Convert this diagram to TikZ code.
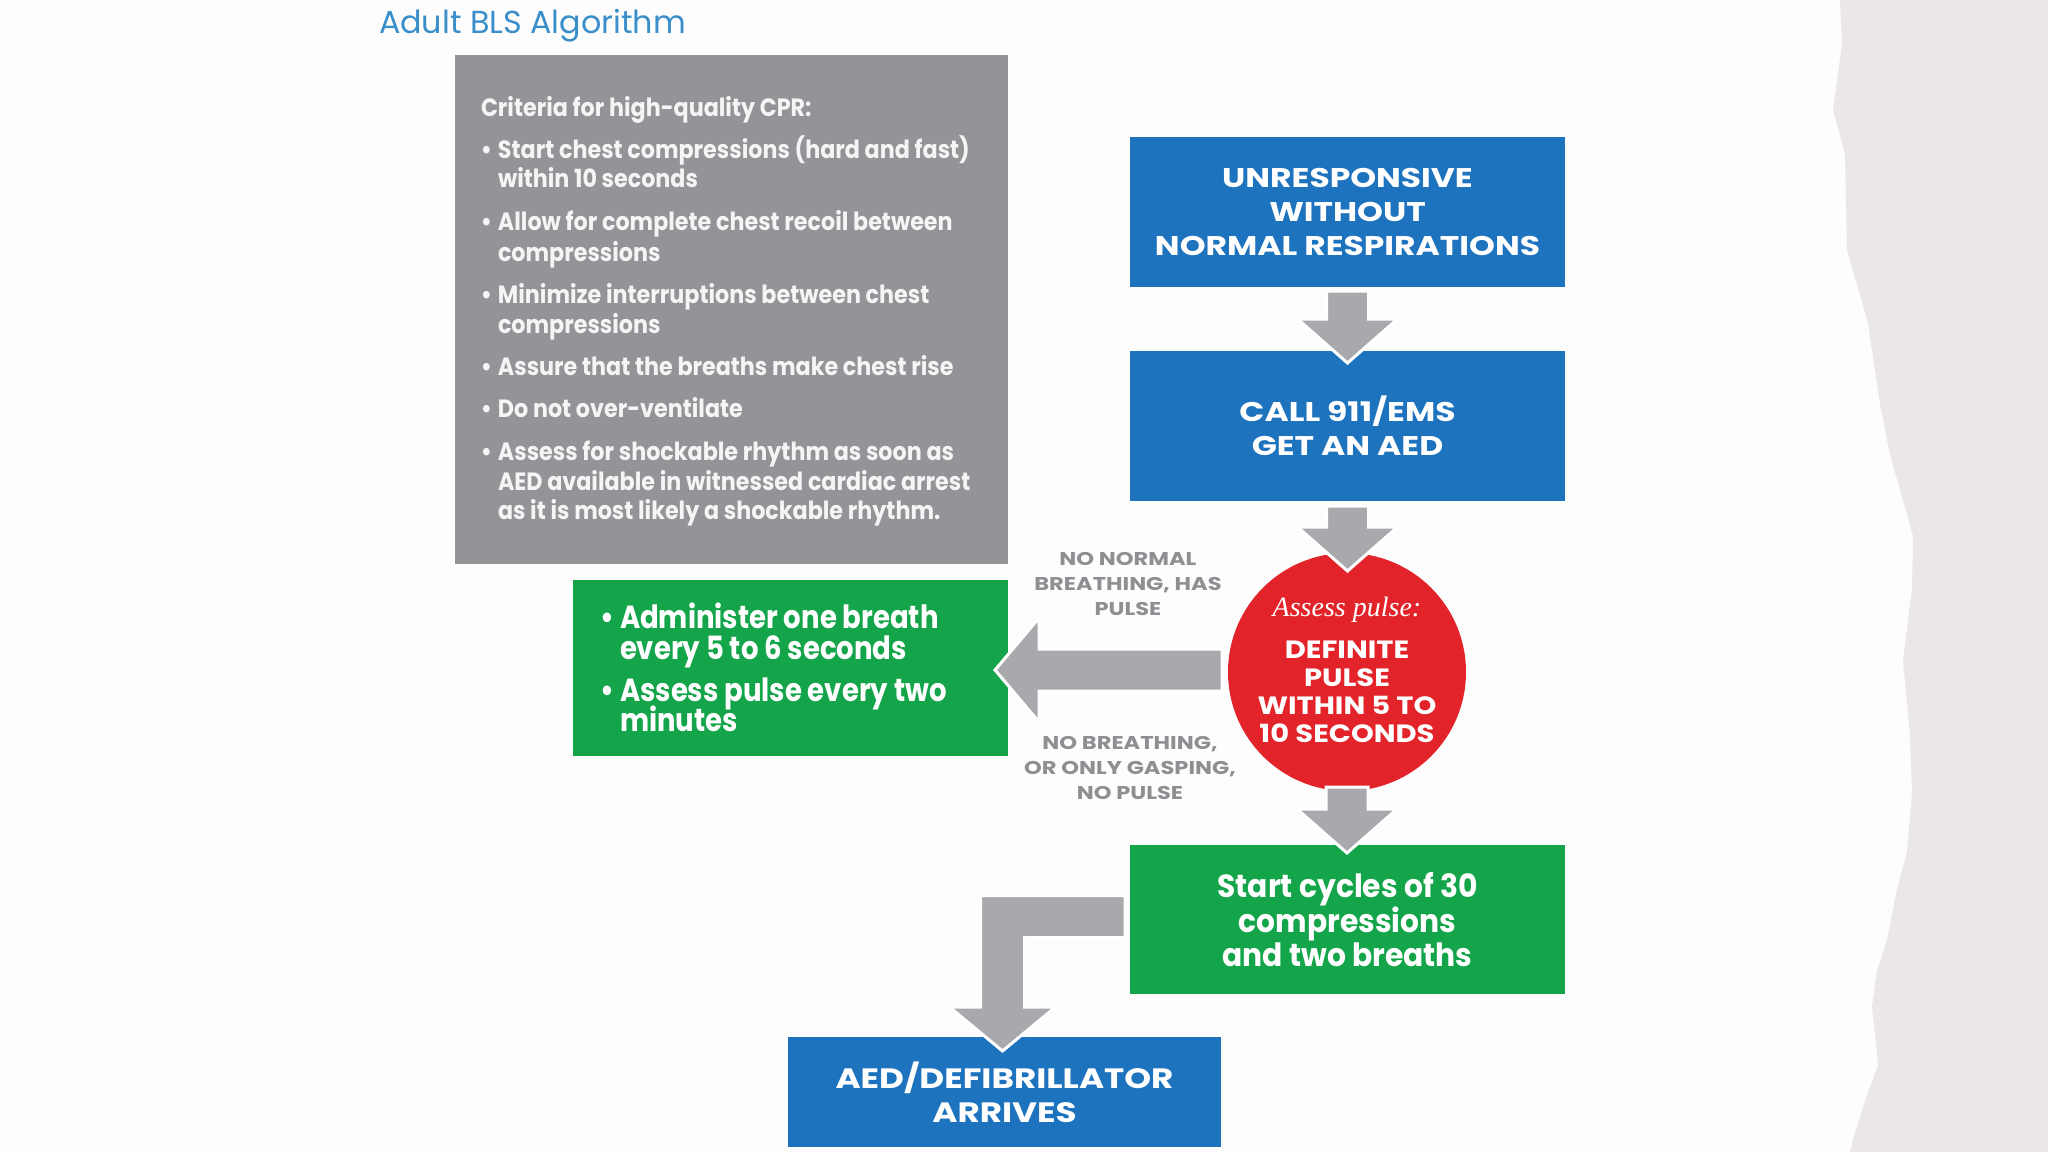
\documentclass[tikz,border=0pt]{standalone}
\usepackage{fontspec}
\setmainfont{Poppins}
\newfontfamily\popR{Poppins}
\newfontfamily\popC[FakeStretch=0.89]{Poppins}
\newfontfamily\popG[FakeStretch=0.86]{Poppins}
\newfontfamily\popS[FakeStretch=0.93]{Poppins}
\newfontfamily\popW[FakeStretch=1.22]{Poppins}
\newfontfamily\popP[FakeStretch=1.16]{Poppins}
\newfontfamily\serifit{Liberation Serif}
\usetikzlibrary{calc}
\definecolor{bgwhite}{HTML}{FDFDFD}
\definecolor{torn}{HTML}{EBE7E6}
\definecolor{titleblue}{HTML}{3A8FCB}
\definecolor{boxgray}{HTML}{929497}
\definecolor{boxblue}{HTML}{1E73BE}
\definecolor{boxgreen}{HTML}{14A54A}
\definecolor{pulsered}{HTML}{E3232A}
\definecolor{arrowgray}{HTML}{A7A9AC}
\definecolor{labelgray}{HTML}{8E8F92}
\tikzset{
  blk/.style={inner sep=0pt, outer sep=0pt},
  bigarrow/.style={fill=arrowgray, draw=white, line width=3pt, line join=miter},
  bluebox/.style={blk, fill=boxblue, minimum width=435, text=white, align=center,
    font=\popW\bfseries\fontsize{27}{34}\selectfont},
  greenbox/.style={blk, fill=boxgreen, minimum width=435, text=white, align=center},
  critline/.style={blk, anchor=base west, text=white!96!black,
    font=\popC\bfseries\fontsize{25}{30}\selectfont},
  greenline/.style={blk, anchor=base west, text=white,
    font=\popG\bfseries\fontsize{32}{31}\selectfont},
  lbl/.style={blk, align=center, text=labelgray,
    font=\popW\bfseries\fontsize{18.5}{25}\selectfont},
}
\newcommand\bul{\makebox[0pt][r]{\textbullet\hspace{6pt}}}
\newcommand\vArrow[2]{%
  \path[bigarrow] let \p1=(#1), \p2=(#2) in
    (\x1-21pt,\y1) -- (\x1-21pt,\y2+44pt) -- (\x1-50pt,\y2+44pt) -- (\x1,\y2)
    -- (\x1+50pt,\y2+44pt) -- (\x1+21pt,\y2+44pt) -- (\x1+21pt,\y1) -- cycle;}
\begin{document}
\begin{tikzpicture}[x=1pt,y=-1pt]
\useasboundingbox (0,0) rectangle (2048,1152);
\fill[bgwhite] (0,0) rectangle (2048,1152);
\fill[torn] (1840,0) -- (1842,44) -- (1833,110) -- (1845,154) -- (1847,250)
  -- (1868,323) -- (1880,404) -- (1890,455) -- (1907,514) -- (1913,536)
  -- (1912,588) -- (1903,661) -- (1910,735) -- (1912,793) -- (1907,852)
  -- (1897,889) -- (1887,940) -- (1877,970) -- (1872,1006) -- (1878,1065)
  -- (1867,1095) -- (1853,1139) -- (1850,1152) -- (2048,1152) -- (2048,0) -- cycle;

\node[blk, anchor=base west, text=titleblue, font=\popR\fontsize{31.8}{36}\selectfont]
  (title) at (379,33) {Adult BLS Algorithm};

% criteria box
\node[blk, fill=boxgray, minimum width=553, minimum height=509] (crit) at (731.5,309.5) {};
\node[critline] (c0) at (481,116) {Criteria for high-quality CPR:};
\node[critline] (c1a) at (498,158) {\bul Start chest compressions (hard and fast)};
\node[critline] (c1b) at (498,187) {within 10 seconds};
\node[critline] (c2a) at (498,230) {\bul Allow for complete chest recoil between};
\node[critline] (c2b) at (498,261) {compressions};
\node[critline] (c3a) at (498,303) {\bul Minimize interruptions between chest};
\node[critline] (c3b) at (498,333) {compressions};
\node[critline] (c4) at (498,375) {\bul Assure that the breaths make chest rise};
\node[critline] (c5) at (498,417) {\bul Do not over-ventilate};
\node[critline] (c6a) at (498,460) {\bul Assess for shockable rhythm as soon as};
\node[critline] (c6b) at (498,490) {AED available in witnessed cardiac arrest};
\node[critline] (c6c) at (498,519) {as it is most likely a shockable rhythm.};

% flow boxes
\node[bluebox, minimum height=150] (b1) at (1347.5,212) {UNRESPONSIVE\\WITHOUT\\NORMAL RESPIRATIONS};
\node[bluebox, minimum height=150] (b2) at (1347.5,426) {CALL 911/EMS\\GET AN AED};
\node[blk, circle, fill=pulsered, minimum size=238] (pulse) at (1347,672) {};
\node[blk, text=white, font=\serifit\itshape\fontsize{28}{34}\selectfont] (pq) at (1347,610) {Assess pulse:};
\node[blk, text=white, align=center, font=\popP\bfseries\fontsize{25}{28}\selectfont] (pt) at (1347,692)
  {DEFINITE\\PULSE\\WITHIN 5 TO\\10 SECONDS};
\node[greenbox, minimum height=176] (g1) at (790.5,668) {};
\node[greenline] (g1a) at (620,628) {\bul Administer one breath};
\node[greenline] (g1b) at (620,659) {every 5 to 6 seconds};
\node[greenline] (g1c) at (620,701) {\bul Assess pulse every two};
\node[greenline] (g1d) at (620,731) {minutes};
\node[greenbox, minimum height=149, font=\popS\bfseries\fontsize{32}{34}\selectfont] (g2) at (1347.5,919.5)
  {Start cycles of 30\\compressions\\and two breaths};
\node[bluebox, minimum width=433, minimum height=110, font=\popW\bfseries\fontsize{28}{34}\selectfont] (b3) at (1004.5,1092)
  {AED/DEFIBRILLATOR\\ARRIVES};

\node[lbl] (l1) at (1128,584) {NO NORMAL\\BREATHING, HAS\\PULSE};
\node[lbl] (l2) at (1130,768) {NO BREATHING,\\OR ONLY GASPING,\\NO PULSE};

% arrows
\coordinate (a1s) at ($(b1.south)+(0,4)$);
\coordinate (a1t) at ($(b2.north)+(0,12)$);
\vArrow{a1s}{a1t}
\coordinate (a2s) at ($(b2.south)+(0,5)$);
\coordinate (a2t) at ($(pulse.north)+(0,18)$);
\vArrow{a2s}{a2t}
\coordinate (a3s) at ($(pulse.south)+(0,-4)$);
\coordinate (a3t) at ($(g2.north)+(0,8)$);
\vArrow{a3s}{a3t}
\coordinate (a4s) at ($(pulse.west)+(-6,-2)$);
\coordinate (a4t) at ($(g1.east)+(-13,0)$);
\path[bigarrow] let \p1=(a4s), \p2=(a4t) in
  (\x1,\y1+21pt) -- (\x2+44pt,\y1+21pt) -- (\x2+44pt,\y1+52pt) -- (\x2,\y1)
  -- (\x2+44pt,\y1-52pt) -- (\x2+44pt,\y1-21pt) -- (\x1,\y1-21pt) -- cycle;
\coordinate (a5s) at ($(g2.west)+(-5,-3)$);
\coordinate (a5t) at ($(b3.north)+(-2,14)$);
\path[bigarrow] let \p1=(a5s), \p2=(a5t) in
  (\x1,\y1+21pt) -- (\x2-22pt,\y1+21pt) -- (\x2-22pt,\y2+44pt) -- (\x2-53pt,\y2+44pt)
  -- (\x2,\y2) -- (\x2+53pt,\y2+44pt) -- (\x2+22pt,\y2+44pt) -- (\x2+22pt,\y1-21pt)
  -- (\x1,\y1-21pt) -- cycle;
\end{tikzpicture}
\end{document}
